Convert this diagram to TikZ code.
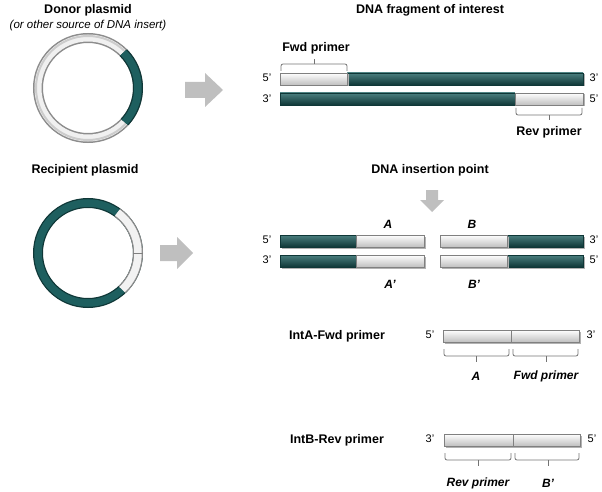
\documentclass[tikz,border=0pt]{standalone}
\usepackage{fontspec}
\setmainfont{Liberation Sans}
\begin{document}
\begin{tikzpicture}[x=1pt,y=-1pt,
  title/.style={font=\fontsize{12.5}{14}\selectfont\bfseries},
  end/.style={font=\fontsize{11}{12}\selectfont},
  lab/.style={font=\fontsize{12}{14}\selectfont\bfseries\itshape},
  ilab/.style={font=\fontsize{12}{14}\selectfont\itshape},
  arr/.style={fill=black!25,draw=none},
  brace/.style={draw=black!55,line width=0.8pt,rounded corners=2pt}]
\definecolor{teal1}{RGB}{30,95,95}
\definecolor{teald}{RGB}{15,55,55}
\useasboundingbox (0,0) rectangle (602,492);
\newcommand\tseg[4]{% x1 x2 ycenter type
  \fill[black!30] (#1+1.5,#3-4.5) rectangle (#2+1.5,#3+7.5);
  \ifx#4t
   \shade[top color=teal1!80!white,bottom color=teald,draw=teald,line width=0.4pt] (#1,#3-6) rectangle (#2,#3+6);
  \else
   \shade[top color=white,bottom color=black!25,draw=black!50,line width=0.5pt] (#1,#3-6) rectangle (#2,#3+6);
  \fi}
% titles
\node[title] (t1) at (88,10) {Donor plasmid};
\node[font=\fontsize{11.5}{13}\selectfont\itshape] (t2) at (88,26) {(or other source of DNA insert)};
\node[title] (t3) at (85,170) {Recipient plasmid};
\node[title] (t4) at (430,10) {DNA fragment of interest};
\node[title] (t5) at (430,170) {DNA insertion point};
% donor plasmid
\draw[black!45,line width=10pt] (88,88) circle (50);
\draw[black!6,line width=7pt] (88,88) circle (50);
\draw[black!20,line width=2pt] (88,88) circle (52);
\draw[teald,line width=10pt] (88,88) ++(-45:50) arc[start angle=-45,end angle=43,radius=50];
\draw[teal1,line width=7.5pt] (88,88) ++(-45:50) arc[start angle=-45,end angle=43,radius=50];
% recipient plasmid
\draw[teald,line width=10pt] (88,253) circle (50);
\draw[teal1,line width=7.5pt] (88,253) circle (50);
\draw[black!45,line width=10pt] (88,253) ++(-54:50) arc[start angle=-54,end angle=47,radius=50];
\draw[black!5,line width=7.5pt] (88,253) ++(-54:50) arc[start angle=-54,end angle=47,radius=50];
\draw[black!50,line width=1pt] (133,253) -- (143,253);
% block arrows
\fill[arr] (185,82) -- (205,82) -- (205,73) -- (223,90) -- (205,107) -- (205,98) -- (185,98) -- cycle;
\fill[arr] (160,245) -- (177,245) -- (177,237) -- (193,253) -- (177,269) -- (177,261) -- (160,261) -- cycle;
\fill[arr] (426,190) -- (438,190) -- (438,200) -- (444,200) -- (432,212) -- (420,200) -- (426,200) -- cycle;
% fragment
\tseg{347}{583}{79}{t}\tseg{280}{347}{79}{w}
\tseg{280}{515}{99}{t}\tseg{515}{583}{99}{w}
\node[end] (f5a) at (267,78) {5’};\node[end] (f3a) at (594,78) {3’};
\node[end] (f3b) at (267,99) {3’};\node[end] (f5b) at (594,99) {5’};
\draw[brace] (281,71) -- (281,64) -- (347,64) -- (347,71);\draw[brace] (314,64)--(314,59);
\node[title] (fwd) at (316,48) {Fwd primer};
\draw[brace] (516,108) -- (516,115) -- (582,115) -- (582,108);\draw[brace] (549,115)--(549,120);
\node[title] (rev) at (549,132) {Rev primer};
% insertion
\tseg{280}{356}{241}{t}\tseg{356}{424}{241}{w}
\tseg{280}{356}{261}{t}\tseg{356}{424}{261}{w}
\tseg{507}{583}{241}{t}\tseg{440}{507}{241}{w}
\tseg{507}{583}{261}{t}\tseg{440}{507}{261}{w}
\node[end] (i5a) at (267,240) {5’};\node[end] (i3a) at (594,240) {3’};
\node[end] (i3b) at (267,260) {3’};\node[end] (i5b) at (594,260) {5’};
\node[lab] (A) at (388,224) {A};\node[lab] (B) at (472,224) {B};
\node[lab] (A2) at (390,284) {A’};\node[lab] (B2) at (474,284) {B’};
% IntA
\node[title] (ia) at (337,336) {IntA-Fwd primer};
\tseg{443}{511}{336}{w}\tseg{511}{579}{336}{w}
\node[end] (ia5) at (430,335) {5’};\node[end] (ia3) at (591,335) {3’};
\draw[brace] (444,349) -- (444,356) -- (509,356) -- (509,349);\draw[brace] (476,356)--(476,362);
\draw[brace] (513,349) -- (513,356) -- (578,356) -- (578,349);\draw[brace] (546,356)--(546,362);
\node[lab] (la) at (476,376) {A};\node[lab] (lf) at (546,376) {Fwd primer};
% IntB
\node[title] (ib) at (337,440) {IntB-Rev primer};
\tseg{444}{513}{440}{w}\tseg{513}{580}{440}{w}
\node[end] (ib3) at (430,439) {3’};\node[end] (ib5) at (592,439) {5’};
\draw[brace] (445,453) -- (445,460) -- (511,460) -- (511,453);\draw[brace] (478,460)--(478,466);
\draw[brace] (515,453) -- (515,460) -- (579,460) -- (579,453);\draw[brace] (548,460)--(548,466);
\node[lab] (lr) at (478,483) {Rev primer};\node[lab] (lb) at (548,483) {B’};
\end{tikzpicture}
\end{document}
